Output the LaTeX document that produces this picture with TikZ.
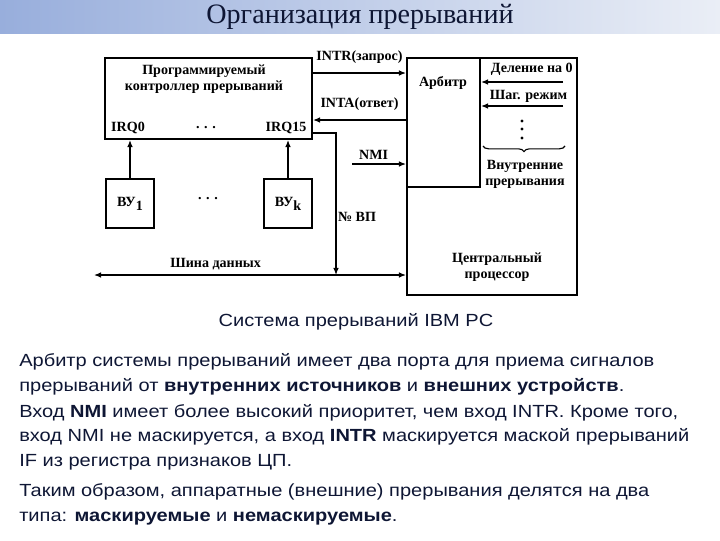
\documentclass[tikz,border=0pt]{standalone}
\usepackage{fontspec}
\setmainfont{Liberation Serif}
\newfontfamily\bodyfont{Liberation Sans}[FakeStretch=1.14]
\usetikzlibrary{arrows.meta, decorations.pathreplacing}
\definecolor{navy}{RGB}{14,22,52}
\definecolor{bandl}{RGB}{152,174,220}
\definecolor{bandr}{RGB}{234,238,246}

\begin{document}
\begin{tikzpicture}[
  x=0.025cm, y=-0.025cm,
  blk/.style={draw, line width=1.4pt, inner sep=0pt, font=\bfseries\fontsize{10}{11.5}\selectfont},
  lbl/.style={font=\bfseries\fontsize{10}{11.5}\selectfont, inner sep=1pt, align=center},
  arr/.style={-{Latex[length=5pt, width=4pt]}, line width=0.9pt},
  para/.style={anchor=base west, align=left, inner sep=0pt, text=navy, font=\bodyfont\fontsize{12.5}{17.4}\selectfont}
]
\useasboundingbox (0,0) rectangle (720,540);
\shade[left color=bandl, right color=bandr] (0,0) rectangle (720,33);
\node[font=\fontsize{20}{24}\selectfont, text=navy] (title) at (360,17) {Организация прерываний};

% controller, arbiter, processor
\node[blk, minimum width=5.175cm, minimum height=2.025cm] (ctrl) at (208.5,98.5) {};
\node[lbl] (ctrltxt) at (204,79) {Программируемый\\контроллер прерываний};
\node[lbl] (irq0) at (128,128) {IRQ0};
\node[lbl] (irqdots) at (206,128) {.\,\,.\,\,.};
\node[lbl] (irq15) at (286,128) {IRQ15};
\node[blk, minimum width=4.25cm, minimum height=5.925cm] (cpu) at (492,176.5) {};
\node[blk, minimum width=1.825cm, minimum height=3.225cm] (arb) at (443.5,122.5) {};
\node[lbl] (arbtxt) at (443,83) {Арбитр};
\node[lbl] (cputxt) at (497,267) {Центральный\\процессор};

% devices
\node[blk, minimum width=1.2cm, minimum height=1.225cm] (vu1) at (130,203.5) {ВУ\raisebox{-3pt}{1}};
\node[lbl] (vudots) at (208,199) {.\,\,.\,\,.};
\node[blk, minimum width=1.2cm, minimum height=1.225cm] (vuk) at (288,203.5) {ВУ\raisebox{-3pt}{k}};
\draw[arr] (vu1) -- (vu1 |- ctrl.south);
\draw[arr] (vuk) -- (vuk |- ctrl.south);

% signals between controller and arbiter
\draw[arr] (ctrl.east |- 0,73) -- node[lbl, above=5pt] {INTR(запрос)} (arb.west |- 0,73);
\draw[arr] (arb.west |- 0,120) -- node[lbl, above=5pt] {INTA(ответ)} (ctrl.east |- 0,120);
\coordinate (nmi) at (352,164);
\draw[arr] (nmi) -- node[lbl, above=2pt, pos=0.4] {NMI} (arb.west |- nmi);
\coordinate (vp) at (336,275);
\draw[arr] (ctrl.east |- 0,133) -| (vp);
\node[lbl] (vptxt) at (357,217) {№ ВП};
\coordinate (busl) at (94,275);
\draw[{Latex[length=5pt, width=4pt]}-{Latex[length=5pt, width=4pt]}, line width=0.9pt] (busl) -- node[lbl, above=2pt, pos=0.39] {Шина данных} (cpu.west |- busl);

% internal interrupts
\coordinate (divz) at (563,82);
\coordinate (step) at (563,106);
\draw[arr] (divz) -- node[lbl, above=3pt, pos=0.38] {Деление на 0} (arb.east |- divz);
\draw[arr] (step) -- node[lbl, above=1pt, pos=0.42] {Шаг. режим} (arb.east |- step);
\foreach \y in {121,129,138}
  \fill (522,\y) circle (1.2pt);
\draw[line width=0.8pt, decorate, decoration={brace, amplitude=4pt}] (565,146) -- (483,146);
\node[lbl] (inttxt) at (525,174) {Внутренние\\прерывания};

% caption and text
\node[para, anchor=base] (cap) at (356,326) {Система прерываний IBM PC};
\node[para] (p1) at (19,391) {Арбитр системы прерываний имеет два порта для приема сигналов\\прерываний от \textbf{внутренних источников} и \textbf{внешних устройств}.};
\node[para] (p2) at (19,466) {Вход \textbf{NMI} имеет более высокий приоритет, чем вход INTR. Кроме того,\\вход NMI не маскируется, а вход \textbf{INTR} маскируется маской прерываний\\IF из регистра признаков ЦП.};
\node[para] (p3) at (19,521) {Таким образом, аппаратные (внешние) прерывания делятся на два\\типа: \textbf{маскируемые} и \textbf{немаскируемые}.};
\end{tikzpicture}
\end{document}
